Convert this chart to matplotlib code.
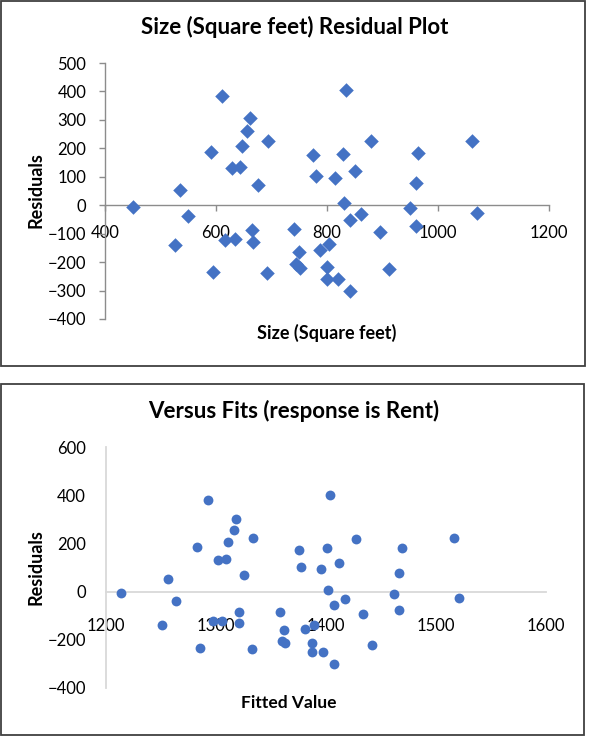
import matplotlib
matplotlib.use("Agg")
import matplotlib.pyplot as plt
from matplotlib.patches import Rectangle

plt.rcParams['font.family'] = ['Lato', 'DejaVu Sans']

# Top chart: Size (Square feet) vs residuals
size_sqft = [450, 535, 550, 526, 591, 611, 594, 616, 634, 628, 643, 646, 655, 661,
             693, 676, 665, 666, 691, 740, 749, 745, 751, 775, 780, 787, 804, 800,
             800, 820, 815, 828, 834, 831, 880, 850, 841, 861, 895, 912, 841, 964,
             960, 950, 960, 1061, 1070]
size_resid = [-5, 55, -38, -141, 187, 385, -234, -124, -120, 132, 135, 208, 261, 306,
              227, 70, -86, -131, -240, -82, -163, -208, -220, 176, 102, -157, -138, -218,
              -260, -259, 97, 181, 404, 8, 225, 120, -53, -32, -95, -224, -300, 183,
              79, -11, -74, 226, -26]

# Bottom chart: fitted values vs residuals
fitted = [1214, 1256, 1264, 1251, 1283, 1293, 1285, 1297, 1305, 1302, 1309, 1311, 1316, 1318,
          1334, 1325, 1321, 1321, 1333, 1358, 1362, 1360, 1363, 1375, 1377, 1381, 1389, 1387,
          1387, 1397, 1395, 1401, 1404, 1402, 1427, 1412, 1407, 1417, 1434, 1442, 1407, 1469,
          1466, 1462, 1466, 1516, 1521]
fit_resid = [-4, 52, -38, -139, 183, 382, -233, -120, -120, 131, 134, 205, 255, 303,
             223, 69, -84, -131, -237, -83, -160, -207, -213, 172, 102, -155, -138, -215,
             -252, -252, 94, 179, 400, 7, 220, 117, -55, -31, -93, -220, -299, 179,
             76, -12, -76, 222, -25]

top_xticks = [400, 600, 800, 1000, 1200]
top_yticks = [500, 400, 300, 200, 100, 0, -100, -200, -300, -400]
bot_xticks = [1200, 1300, 1400, 1500, 1600]
bot_yticks = [600, 400, 200, 0, -200, -400]

W, H = 589, 737
fig = plt.figure(figsize=(W / 100, H / 100), dpi=100)

def fx(px):
    return px / W

def fy(py):
    return 1 - py / H

blue = '#4472C4'

# panel borders
for (x0, y0, x1, y1) in [(1, 0.5, 585, 366), (1, 384, 584, 735)]:
    fig.patches.append(Rectangle((fx(x0), fy(y1)), fx(x1) - fx(x0), fy(y0) - fy(y1),
                                 transform=fig.transFigure, fill=False,
                                 edgecolor='#404040', linewidth=1.3))

tick_fs = 12

# ---- Top axes ----
ax1 = fig.add_axes([fx(105), fy(319), fx(549) - fx(105), fy(63) - fy(319)])
ax1.scatter(size_sqft, size_resid, marker='D', s=55, color=blue, zorder=3, linewidths=0)
ax1.set_xlim(400, 1200)
ax1.set_ylim(-400, 500)
ax1.set_xticks(top_xticks)
ax1.set_yticks(top_yticks)
ax1.spines['top'].set_visible(False)
ax1.spines['right'].set_visible(False)
ax1.spines['bottom'].set_position(('data', 0))
for s in ['left', 'bottom']:
    ax1.spines[s].set_color('#8c8c8c')
    ax1.spines[s].set_linewidth(1.0)
ax1.tick_params(axis='both', colors='#8c8c8c', labelcolor='black', labelsize=tick_fs,
                length=4.5, width=1.0, direction='out')
ax1.tick_params(axis='x', pad=10)
ax1.tick_params(axis='y', pad=9)
ax1.patch.set_alpha(0)

# ---- Bottom axes ----
ax2 = fig.add_axes([fx(106), fy(688), fx(546) - fx(106), fy(447) - fy(688)])
ax2.scatter(fitted, fit_resid, marker='o', s=50, color=blue, zorder=3, linewidths=0)
ax2.set_xlim(1200, 1600)
ax2.set_ylim(-400, 600)
ax2.set_xticks(bot_xticks)
ax2.set_yticks(bot_yticks)
ax2.spines['top'].set_visible(False)
ax2.spines['right'].set_visible(False)
ax2.spines['bottom'].set_position(('data', 0))
for s in ['left', 'bottom']:
    ax2.spines[s].set_color('#d9d9d9')
    ax2.spines[s].set_linewidth(1.3)
ax2.tick_params(axis='both', labelcolor='black', labelsize=tick_fs, length=0)
ax2.tick_params(axis='x', pad=19)
ax2.tick_params(axis='y', pad=14.5)
ax2.patch.set_alpha(0)

# ---- texts ----
title_fs = 16
fig.text(fx(294.5), fy(27), 'Size (Square feet) Residual Plot', ha='center', va='center',
         fontsize=title_fs, fontweight='bold')
fig.text(fx(294), fy(411), 'Versus Fits (response is Rent)', ha='center', va='center',
         fontsize=title_fs, fontweight='bold')
fig.text(fx(327), fy(333), 'Size (Square feet)', ha='center', va='center',
         fontsize=13, fontweight='bold')
fig.text(fx(289), fy(703), 'Fitted Value', ha='center', va='center',
         fontsize=12.5, fontweight='bold')
fig.text(fx(35.7), fy(190), 'Residuals', ha='center', va='center', rotation=90,
         fontsize=13, fontweight='bold')
fig.text(fx(35.7), fy(567.5), 'Residuals', ha='center', va='center', rotation=90,
         fontsize=13, fontweight='bold')

fig.savefig('out.png', dpi=100)
